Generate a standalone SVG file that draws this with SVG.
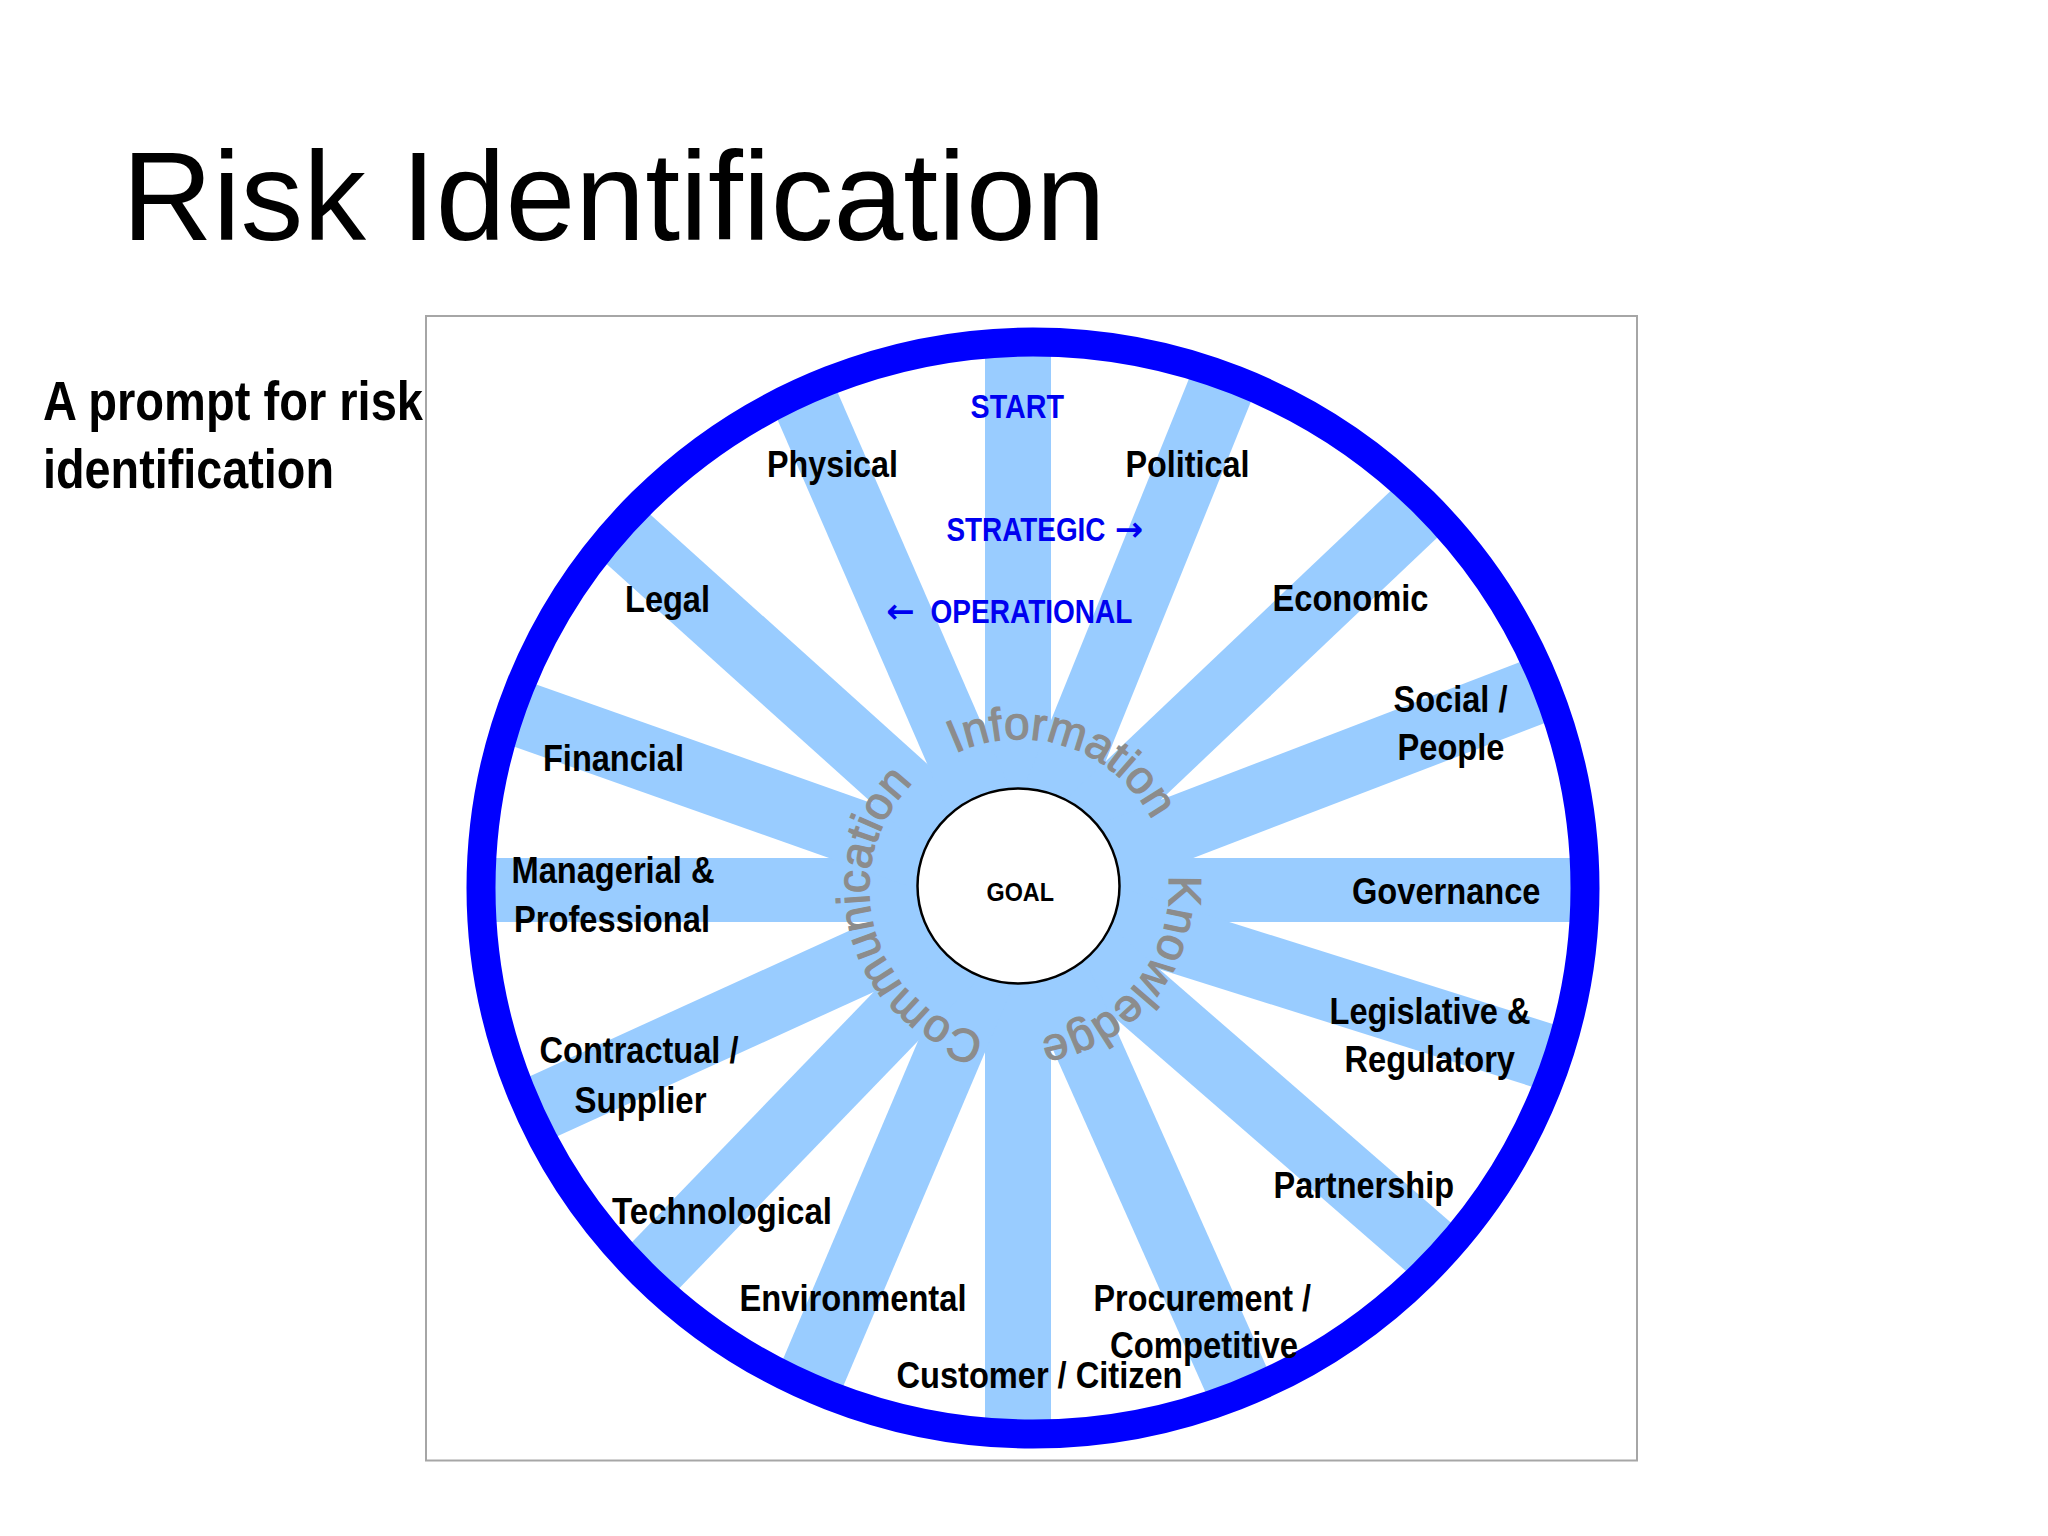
<svg xmlns="http://www.w3.org/2000/svg" xmlns:xlink="http://www.w3.org/1999/xlink" width="2048" height="1536" viewBox="0 0 2048 1536">
<style>
  .title{font-family:"Liberation Sans",Arial,sans-serif;font-size:125.5px;fill:#000}
  .sub{font-family:"Liberation Sans Narrow","Liberation Sans",Arial,sans-serif;font-weight:bold;font-size:55px;fill:#000}
  .lbl{font-family:"Liberation Sans Narrow","Liberation Sans",Arial,sans-serif;font-weight:bold;font-size:37px;fill:#000}
  .blue{font-family:"Liberation Sans Narrow","Liberation Sans",Arial,sans-serif;font-weight:bold;font-size:33px;fill:#0000F0}
  .arr{font-family:"DejaVu Sans",sans-serif;font-weight:bold;font-size:34px}
  .hub{font-family:"Liberation Sans",Arial,sans-serif;font-size:46px;fill:#8C8C8C;stroke:#8C8C8C;stroke-width:1.2px}
  .goal{font-family:"Liberation Sans Narrow","Liberation Sans",Arial,sans-serif;font-weight:bold;font-size:26.5px;fill:#000}
  .spoke{fill:#99CCFF}
</style>
<defs>
  <clipPath id="wheelClip"><ellipse cx="1033" cy="888" rx="552" ry="546"/></clipPath>
  <path id="hubArc" d="M 1019 1039 A 150 150 0 1 1 1019 739 A 150 150 0 1 1 1019 1039"/>
</defs>
<rect width="2048" height="1536" fill="#fff"/>

<g id="title"><text class="title" x="122" y="240">Risk Identification</text></g>
<g id="subtitle">
  <text class="sub" x="43" y="420" textLength="380" lengthAdjust="spacingAndGlyphs">A prompt for risk</text>
  <text class="sub" x="43" y="488" textLength="291" lengthAdjust="spacingAndGlyphs">identification</text>
</g>

<g id="frame"><rect x="426" y="316" width="1211" height="1144.5" fill="#fff" stroke="#A6A6A6" stroke-width="2"/></g>

<g id="connectors" class="spoke" clip-path="url(#wheelClip)">
  <rect x="-33" y="-700" width="66" height="700" transform="translate(1018 890) rotate(0)"/>
  <rect x="-33" y="-700" width="66" height="700" transform="translate(1018 890) rotate(22)"/>
  <rect x="-33" y="-700" width="66" height="700" transform="translate(1018 890) rotate(46.5)"/>
  <rect x="-33" y="-700" width="66" height="700" transform="translate(1018 890) rotate(69)"/>
  <rect x="-32" y="-700" width="64" height="700" transform="translate(1018 890) rotate(90)"/>
  <rect x="-33" y="-700" width="66" height="700" transform="translate(1018 890) rotate(107.5)"/>
  <rect x="-33" y="-700" width="66" height="700" transform="translate(1018 890) rotate(131)"/>
  <rect x="-33" y="-700" width="66" height="700" transform="translate(1018 890) rotate(156)"/>
  <rect x="-33" y="-700" width="66" height="700" transform="translate(1018 890) rotate(180)"/>
  <rect x="-33" y="-700" width="66" height="700" transform="translate(1018 890) rotate(203)"/>
  <rect x="-33" y="-700" width="66" height="700" transform="translate(1018 890) rotate(224)"/>
  <rect x="-33" y="-700" width="66" height="700" transform="translate(1018 890) rotate(245.5)"/>
  <rect x="-32" y="-700" width="64" height="700" transform="translate(1018 890) rotate(270)"/>
  <rect x="-33" y="-700" width="66" height="700" transform="translate(1018 890) rotate(289.5)"/>
  <rect x="-33" y="-700" width="66" height="700" transform="translate(1018 890) rotate(312)"/>
  <rect x="-33" y="-700" width="66" height="700" transform="translate(1018 890) rotate(336.5)"/>
</g>

<g id="ring"><ellipse cx="1033" cy="888" rx="552" ry="546" fill="none" stroke="#0000FF" stroke-width="29"/></g>

<g id="hub-text">
  <text class="hub"><textPath xlink:href="#hubArc" href="#hubArc" startOffset="34">Communication</textPath></text>
  <text class="hub"><textPath xlink:href="#hubArc" href="#hubArc" startOffset="405">Information</textPath></text>
  <text class="hub"><textPath xlink:href="#hubArc" href="#hubArc" startOffset="693">Knowledge</textPath></text>
</g>

<g id="goal">
  <ellipse cx="1018.5" cy="886" rx="101" ry="97.5" fill="#fff" stroke="#000" stroke-width="2.5"/>
  <text class="goal" x="986.5" y="900.7" textLength="67.5" lengthAdjust="spacingAndGlyphs">GOAL</text>
</g>

<g id="start"><text class="blue" x="970.5" y="418.3" textLength="93.5" lengthAdjust="spacingAndGlyphs">START</text></g>
<g id="strategic"><text class="blue" y="540.7"><tspan x="946.5" textLength="159" lengthAdjust="spacingAndGlyphs">STRATEGIC</tspan><tspan class="arr" x="1103"> →</tspan></text></g>
<g id="operational"><text class="blue" y="622.7"><tspan class="arr" x="886">← </tspan><tspan x="930.5" textLength="202" lengthAdjust="spacingAndGlyphs">OPERATIONAL</tspan></text></g>

<g id="physical"><text class="lbl" x="767" y="477" textLength="131" lengthAdjust="spacingAndGlyphs">Physical</text></g>
<g id="political"><text class="lbl" x="1125.5" y="477.3" textLength="124" lengthAdjust="spacingAndGlyphs">Political</text></g>
<g id="legal"><text class="lbl" x="625" y="611.7" textLength="85" lengthAdjust="spacingAndGlyphs">Legal</text></g>
<g id="economic"><text class="lbl" x="1272.5" y="610.7" textLength="156" lengthAdjust="spacingAndGlyphs">Economic</text></g>
<g id="social">
  <text class="lbl" x="1393.5" y="712.3" textLength="114" lengthAdjust="spacingAndGlyphs">Social /</text>
  <text class="lbl" x="1397.5" y="760" textLength="107" lengthAdjust="spacingAndGlyphs">People</text>
</g>
<g id="financial"><text class="lbl" x="543" y="771" textLength="141" lengthAdjust="spacingAndGlyphs">Financial</text></g>
<g id="managerial">
  <text class="lbl" x="511.5" y="883.3" textLength="203" lengthAdjust="spacingAndGlyphs">Managerial &amp;</text>
  <text class="lbl" x="514" y="931.7" textLength="196" lengthAdjust="spacingAndGlyphs">Professional</text>
</g>
<g id="governance"><text class="lbl" x="1352" y="904" textLength="188.5" lengthAdjust="spacingAndGlyphs">Governance</text></g>
<g id="legislative">
  <text class="lbl" x="1329.5" y="1024" textLength="201" lengthAdjust="spacingAndGlyphs">Legislative &amp;</text>
  <text class="lbl" x="1344.5" y="1072.3" textLength="170.5" lengthAdjust="spacingAndGlyphs">Regulatory</text>
</g>
<g id="contractual">
  <text class="lbl" x="539.5" y="1063.3" textLength="199" lengthAdjust="spacingAndGlyphs">Contractual /</text>
  <text class="lbl" x="574.5" y="1112.5" textLength="132" lengthAdjust="spacingAndGlyphs">Supplier</text>
</g>
<g id="partnership"><text class="lbl" x="1273.5" y="1197.7" textLength="180.5" lengthAdjust="spacingAndGlyphs">Partnership</text></g>
<g id="technological"><text class="lbl" x="612" y="1224" textLength="220" lengthAdjust="spacingAndGlyphs">Technological</text></g>
<g id="environmental"><text class="lbl" x="739.5" y="1310.7" textLength="227" lengthAdjust="spacingAndGlyphs">Environmental</text></g>
<g id="procurement">
  <text class="lbl" x="1093.5" y="1310.7" textLength="217.5" lengthAdjust="spacingAndGlyphs">Procurement /</text>
  <text class="lbl" x="1110" y="1358.3" textLength="188" lengthAdjust="spacingAndGlyphs">Competitive</text>
</g>
<g id="customer"><text class="lbl" x="896.5" y="1388.3" textLength="286" lengthAdjust="spacingAndGlyphs">Customer / Citizen</text></g>
</svg>
